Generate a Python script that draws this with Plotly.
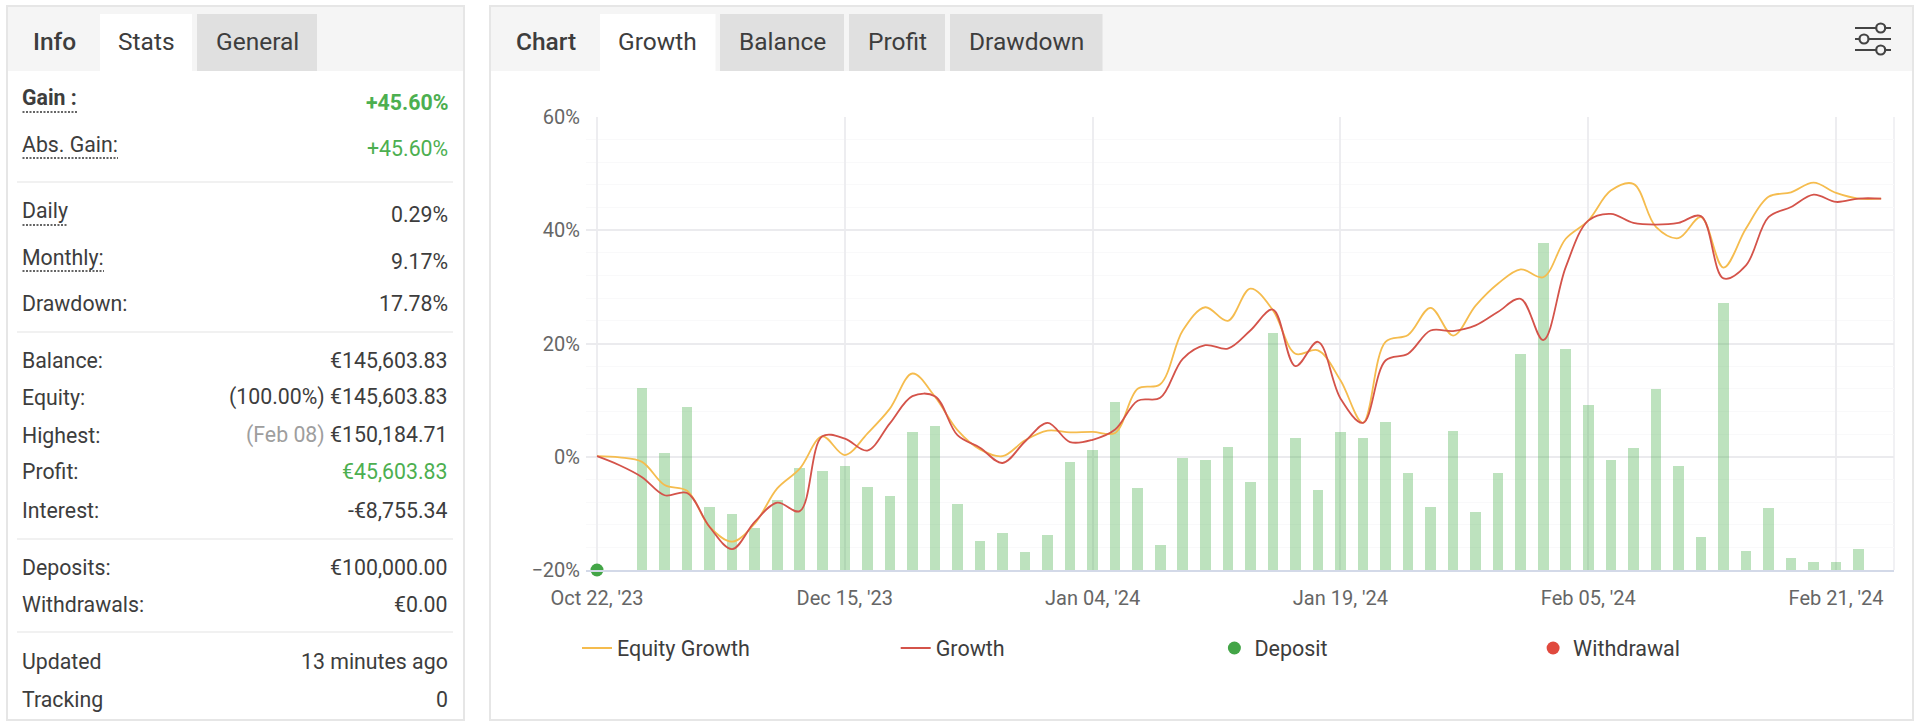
import plotly.graph_objects as go

# ---- chart data ----
tick_positions = [0, 11, 22, 33, 44, 55]
tick_labels = ["Oct 22, '23", "Dec 15, '23", "Jan 04, '24", "Jan 19, '24", "Feb 05, '24", "Feb 21, '24"]
y_ticks = [-20, 0, 20, 40, 60]
y_tick_labels = ["−20%", "0%", "20%", "40%", "60%"]

equity_growth = [0.1, -0.1, -0.9, -5.0, -6.0, -12.4, -15.0, -11.8, -5.6, -2.1, 3.6, 0.3, 4.1, 8.5, 14.7,
                 10.6, 4.7, 1.3, 0.1, 2.9, 4.6, 4.3, 4.4, 4.2, 12.0, 12.8, 22.3, 26.4, 24.0, 29.7,
                 25.9, 18.2, 18.8, 13.5, 6.0, 20.3, 21.5, 26.3, 21.4, 26.7, 30.6, 33.1, 31.7, 38.5,
                 41.7, 47.0, 48.2, 40.6, 38.6, 42.3, 33.4, 40.3, 45.9, 46.7, 48.4, 46.6, 45.6, 45.6]
growth = [0.1, -1.5, -3.6, -6.8, -6.4, -12.4, -16.3, -11.5, -8.1, -9.6, 3.6, 3.2, 1.1, 5.9, 10.7,
          10.7, 3.8, 1.6, -1.1, 2.7, 6.0, 2.6, 3.0, 4.8, 9.9, 10.4, 17.3, 19.7, 19.1, 22.3,
          26.0, 16.0, 20.3, 10.3, 6.0, 17.0, 18.2, 22.3, 22.2, 23.2, 25.6, 27.9, 20.6, 33.5,
          41.7, 42.9, 41.3, 41.0, 41.3, 42.5, 31.5, 33.8, 42.3, 44.1, 46.3, 45.0, 45.6, 45.6]
# bar heights, in axis units above the -20% floor
activity = [32.2, 20.6, 28.8, 11.2, 9.9, 7.5, 12.4, 18.1, 17.5, 18.4, 14.6, 13.1, 24.4, 25.5, 11.6,
            5.2, 6.5, 3.1, 6.2, 19.0, 21.2, 29.7, 14.4, 4.4, 19.7, 19.4, 21.8, 15.6, 41.9, 23.4,
            14.1, 24.4, 23.4, 26.2, 17.2, 11.2, 24.6, 10.3, 17.2, 38.1, 57.8, 39.1, 29.1, 19.4,
            21.5, 31.9, 18.4, 5.9, 47.2, 3.4, 10.9, 2.2, 1.5, 1.5, 3.7]
activity_start = 2
deposit_x = [0]
deposit_y = [-20]

line_x = list(range(len(growth)))
bar_x = [activity_start + i for i in range(len(activity))]

# ---- side panel content ----
TEXT = "#3d3d3d"
GREEN = "#4CAF50"
GREY = "#9E9E9E"
stat_rows = [
    ("<b>Gain :</b>", 98, "<b>+45.60%</b>", 102, GREEN),
    ("Abs. Gain:", 144, "+45.60%", 148, GREEN),
    ("Daily", 211, "0.29%", 215, TEXT),
    ("Monthly:", 257, "9.17%", 261, TEXT),
    ("Drawdown:", 303, "17.78%", 303, TEXT),
    ("Balance:", 360, "€145,603.83", 360, TEXT),
    ("Equity:", 397, "(100.00%) €145,603.83", 397, TEXT),
    ("Highest:", 435, f'<span style="color:{GREY}">(Feb 08)</span> €150,184.71', 435, TEXT),
    ("Profit:", 472, "€45,603.83", 472, GREEN),
    ("Interest:", 510, "-€8,755.34", 510, TEXT),
    ("Deposits:", 567, "€100,000.00", 567, TEXT),
    ("Withdrawals:", 604, "€0.00", 604, TEXT),
    ("Updated", 661, "13 minutes ago", 661, TEXT),
    ("Tracking", 699, "0", 699, TEXT),
]
dotted_rules = [(22.5, 77, 112), (22.5, 118, 158), (22.5, 68, 225), (22.5, 104, 271)]
dividers = [182, 332, 539, 632]

W, H = 1920, 725


def fx(px):
    return px / W


def fy(px):
    return 1 - px / H


def rect(x0, y0, x1, y1, fill, line=None, width=0):
    return dict(type="rect", xref="paper", yref="paper", x0=fx(x0), x1=fx(x1), y0=fy(y0), y1=fy(y1),
                fillcolor=fill, line=dict(color=line or fill, width=width), layer="below")


def seg(x0, y0, x1, y1, color, width=1.5, dash="solid", layer="below"):
    return dict(type="line", xref="paper", yref="paper", x0=fx(x0), x1=fx(x1), y0=fy(y0), y1=fy(y1),
                line=dict(color=color, width=width, dash=dash), layer=layer)


def label(x, y, text, size=21.3, color=TEXT, anchor="left", weight=None):
    font = dict(family="Roboto", size=size, color=color)
    if weight:
        font["weight"] = weight
    return dict(xref="paper", yref="paper", x=fx(x), y=fy(y), text=text, showarrow=False,
                xanchor=anchor, yanchor="middle", font=font)


shapes = []
annotations = []

# panels and their header bands
BAND = "#F5F5F5"
TAB = "#E0E0E0"
BORDER = "#E6E6E6"
for x0, x1 in [(7, 464), (490, 1913)]:
    shapes.append(rect(x0, 6, x1, 720, "#FFFFFF", BORDER, 2))
    shapes.append(rect(x0 + 1, 7, x1 - 1, 71, BAND))

shapes += [rect(100, 14, 192, 71, "#FFFFFF"), rect(197, 14, 317, 71, TAB)]
shapes += [rect(600, 14, 715.5, 71, "#FFFFFF"), rect(720, 14, 844, 71, TAB),
           rect(849, 14, 945, 71, TAB), rect(950, 14, 1102.5, 71, TAB)]

annotations += [label(54, 42, "Info", 24.5, TEXT, "center", 500), label(146, 42, "Stats", 24.5, TEXT, "center"),
                label(257, 42, "General", 24.5, TEXT, "center"), label(546, 42, "Chart", 24.5, TEXT, "center", 500),
                label(657, 42, "Growth", 24.5, TEXT, "center"), label(782, 42, "Balance", 24.5, TEXT, "center"),
                label(897, 42, "Profit", 24.5, TEXT, "center"), label(1026, 42, "Drawdown", 24.5, TEXT, "center")]

for name, y_name, value, y_value, color in stat_rows:
    annotations.append(label(20, y_name, name))
    annotations.append(label(450, y_value, value, color=color, anchor="right"))
for x0, x1, y in dotted_rules:
    shapes.append(seg(x0, y, x1, y, "#333333", 1.5, "2px,1.5px"))
for y in dividers:
    shapes.append(seg(17, y, 453, y, "#EDEDED", 1.5))

# settings icon in the chart header
ICON = "#444444"
for y, cx in [(28, 1880.7), (39, 1864), (50, 1880.7)]:
    shapes.append(seg(1855, y, 1891, y, ICON, 2.2))
    shapes.append(dict(type="circle", xref="paper", yref="paper", x0=fx(cx - 4.5), x1=fx(cx + 4.5),
                       y0=fy(y + 4.5), y1=fy(y - 4.5), fillcolor=BAND, line=dict(color=ICON, width=2.2),
                       layer="below"))

# right-hand edge of the plot frame
shapes.append(seg(1894, 117, 1894, 570, "#EDEDF0", 1.5))

fig = go.Figure()
fig.add_bar(x=bar_x, y=activity, base=-20, width=0.47, marker=dict(color="rgba(76,175,80,0.37)", line_width=0),
            showlegend=False, hoverinfo="skip")
fig.add_scatter(x=line_x, y=equity_growth, mode="lines", name="Equity Growth",
                line=dict(color="#F5BC4E", width=1.8, shape="spline", smoothing=1.0))
fig.add_scatter(x=line_x, y=growth, mode="lines", name="Growth",
                line=dict(color="#D4534A", width=1.8, shape="spline", smoothing=1.0))
fig.add_scatter(x=deposit_x, y=deposit_y, mode="markers", name="Deposit", cliponaxis=False,
                marker=dict(color="#43A547", size=13))
fig.add_scatter(x=[None], y=[None], mode="markers", name="Withdrawal",
                marker=dict(color="#E0493E", size=13))

fig.update_layout(
    width=W, height=H, margin=dict(l=0, r=0, t=0, b=0, autoexpand=False), autosize=False,
    paper_bgcolor="#FFFFFF", plot_bgcolor="rgba(0,0,0,0)",
    font=dict(family="Roboto", size=20, color="#666666"),
    shapes=shapes, annotations=annotations, bargap=0,
    legend=dict(orientation="h", x=fx(577), y=fy(648), xanchor="left", yanchor="middle",
                entrywidth=273.7, entrywidthmode="pixels", itemwidth=30, itemclick=False,
                font=dict(size=21.5, color=TEXT, family="Roboto"), bgcolor="rgba(0,0,0,0)", traceorder="normal"),
    xaxis=dict(domain=[fx(586), fx(1894)], range=[-0.488, 57.57], tickmode="array", tickvals=tick_positions,
               ticktext=tick_labels, showgrid=True, gridcolor="#EDEDF0", gridwidth=1.5, zeroline=False,
               showline=True, linecolor="#D3D9E8", linewidth=1.5, ticks="", ticklabelstandoff=9,
               tickfont=dict(size=20, color="#666666")),
    yaxis=dict(domain=[fy(570), fy(117)], range=[-20, 60], tickmode="array", tickvals=y_ticks,
               ticktext=y_tick_labels, showgrid=True, gridcolor="#EBEBEE", gridwidth=1.5, zeroline=False,
               showline=False, ticks="", ticklabelstandoff=5, tickfont=dict(size=20, color="#666666"),
               minor=dict(dtick=4, showgrid=True, gridcolor="#F9F9FA", gridwidth=1, ticks="")),
)

fig.write_html("out.html", config=dict(displayModeBar=False))
